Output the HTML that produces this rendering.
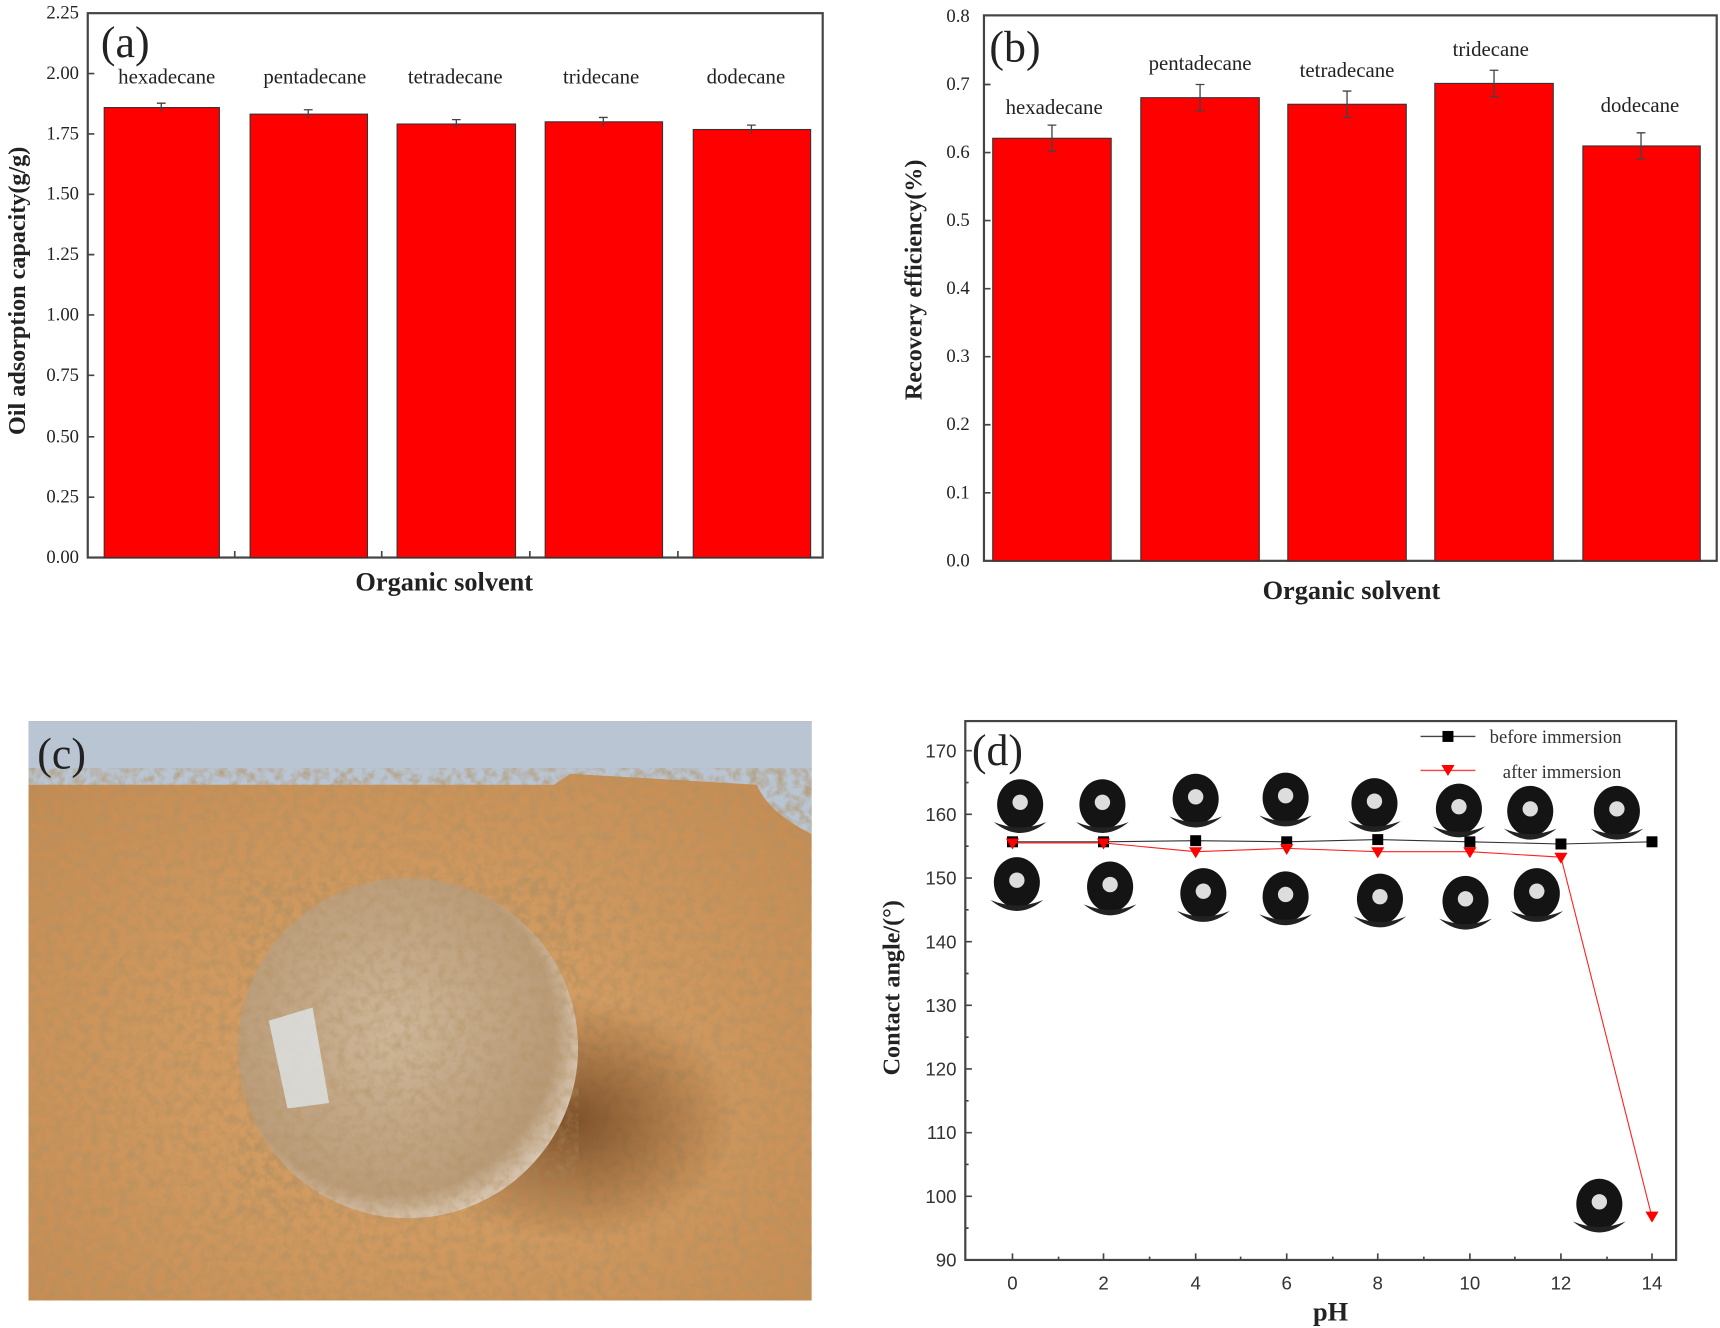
<!DOCTYPE html>
<html><head><meta charset="utf-8"><style>
html,body{margin:0;padding:0;background:#fff;}
svg{display:block;}
.s{font-family:"Liberation Serif",serif;}
.a{font-family:"Liberation Sans",sans-serif;}
</style></head><body>
<svg width="1720" height="1328" viewBox="0 0 1568 1210" preserveAspectRatio="none" xmlns="http://www.w3.org/2000/svg">
<defs>
<filter id="grain" x="0" y="0" width="100%" height="100%">
<feTurbulence type="fractalNoise" baseFrequency="0.12" numOctaves="3" seed="3"/>
<feColorMatrix values="0 0 0 0 0.45  0 0 0 0 0.28  0 0 0 0 0.12  0 0 0 1.6 -0.6"/>
</filter>
<radialGradient id="sand" cx="0.5" cy="0.6" r="0.7">
<stop offset="0" stop-color="#d9a46a"/><stop offset="1" stop-color="#c48b52"/>
</radialGradient>
<radialGradient id="drop" cx="0.45" cy="0.45" r="0.6">
<stop offset="0" stop-color="#cdb89c"/><stop offset="0.8" stop-color="#b99c7a"/><stop offset="1" stop-color="#e8ddd0"/>
</radialGradient>
<radialGradient id="shadow" cx="0.5" cy="0.5" r="0.5">
<stop offset="0" stop-color="#6a3f1c" stop-opacity="0.8"/><stop offset="1" stop-color="#6a3f1c" stop-opacity="0"/>
</radialGradient>
<g id="dr"><ellipse cx="0" cy="0" rx="21" ry="23" fill="#141414"/><ellipse cx="0" cy="-2" rx="7" ry="7" fill="#ddd"/><path d="M-24,16 Q0,36 24,16 Q0,26 -24,16Z" fill="#222"/></g>
</defs>

<!-- Panel a -->
<g class="s" font-size="17" fill="#222">
<rect x="80" y="12" width="670" height="496" fill="none" stroke="#444" stroke-width="2"/>
<g fill="#ff0000" stroke="#333" stroke-width="1">
<rect x="95" y="98" width="105" height="410"/>
<rect x="228" y="104" width="107" height="404"/>
<rect x="362" y="113" width="108" height="395"/>
<rect x="497" y="111" width="107" height="397"/>
<rect x="632" y="118" width="107" height="390"/>
</g>
<g stroke="#444" stroke-width="1.2">
<path d="M147,94v8M143,94h8M281,100v8M277,100h8M416,109v8M412,109h8M550,107v8M546,107h8M685,114v8M681,114h8"/>
</g>
<g text-anchor="end">
<text x="72" y="513">0.00</text><text x="72" y="458">0.25</text><text x="72" y="403">0.50</text><text x="72" y="347">0.75</text><text x="72" y="292">1.00</text><text x="72" y="237">1.25</text><text x="72" y="182">1.50</text><text x="72" y="127">1.75</text><text x="72" y="72">2.00</text><text x="72" y="17">2.25</text>
</g>
<g stroke="#444" stroke-width="1.5"><path d="M80,453h6M80,398h6M80,342h6M80,287h6M80,232h6M80,177h6M80,122h6M80,67h6M214,508v-6M348,508v-6M483,508v-6M618,508v-6"/></g>
<g font-size="19" text-anchor="middle">
<text x="152" y="76">hexadecane</text><text x="287" y="76">pentadecane</text><text x="415" y="76">tetradecane</text><text x="548" y="76">tridecane</text><text x="680" y="76">dodecane</text>
</g>
<text x="92" y="52" font-size="40">(a)</text>
<text x="405" y="538" font-size="24" font-weight="bold" text-anchor="middle">Organic solvent</text>
<text transform="translate(23,265) rotate(-90)" font-size="22" font-weight="bold" text-anchor="middle">Oil adsorption capacity(g/g)</text>
</g>

<!-- Panel b -->
<g class="s" font-size="17" fill="#222">
<rect x="897" y="14" width="668" height="497" fill="none" stroke="#444" stroke-width="2"/>
<g fill="#ff0000" stroke="#333" stroke-width="1">
<rect x="905" y="126" width="108" height="385"/>
<rect x="1040" y="89" width="108" height="422"/>
<rect x="1174" y="95" width="108" height="416"/>
<rect x="1308" y="76" width="108" height="435"/>
<rect x="1443" y="133" width="107" height="378"/>
</g>
<g stroke="#444" stroke-width="1.2" fill="none">
<path d="M959,114v24M955,114h8M955,138h8M1094,77v24M1090,77h8M1090,101h8M1228,83v24M1224,83h8M1224,107h8M1362,64v24M1358,64h8M1358,88h8M1496,121v24M1492,121h8M1492,145h8"/>
</g>
<g text-anchor="end">
<text x="884" y="516">0.0</text><text x="884" y="454">0.1</text><text x="884" y="392">0.2</text><text x="884" y="330">0.3</text><text x="884" y="268">0.4</text><text x="884" y="206">0.5</text><text x="884" y="144">0.6</text><text x="884" y="82">0.7</text><text x="884" y="20">0.8</text>
</g>
<g stroke="#444" stroke-width="1.5"><path d="M897,449h6M897,387h6M897,325h6M897,263h6M897,201h6M897,139h6M897,77h6"/></g>
<g font-size="19" text-anchor="middle">
<text x="961" y="104">hexadecane</text><text x="1094" y="64">pentadecane</text><text x="1228" y="70">tetradecane</text><text x="1359" y="51">tridecane</text><text x="1495" y="102">dodecane</text>
</g>
<text x="902" y="56" font-size="40">(b)</text>
<text x="1232" y="546" font-size="24" font-weight="bold" text-anchor="middle">Organic solvent</text>
<text transform="translate(840,255) rotate(-90)" font-size="22" font-weight="bold" text-anchor="middle">Recovery efficiency(%)</text>
</g>

<!-- Panel c photo -->
<g>
<clipPath id="cp"><rect x="26" y="657" width="714" height="528"/></clipPath>
<g clip-path="url(#cp)">
<rect x="26" y="657" width="714" height="528" fill="url(#sand)"/>
<path d="M26,657H740V760Q700,740 690,715L520,705L505,715H26Z" fill="#b9c5d2"/>
<rect x="26" y="700" width="714" height="485" filter="url(#grain)" opacity="0.9"/>
<ellipse cx="520" cy="1020" rx="150" ry="110" fill="url(#shadow)"/>
<circle cx="372" cy="955" r="155" fill="url(#drop)" opacity="0.95"/>
<circle cx="372" cy="955" r="155" filter="url(#grain)" opacity="0.6"/>
<path d="M245,930 L285,918 L300,1005 L262,1010Z" fill="#dfe3e6" opacity="0.8"/>
</g>
<text x="34" y="700" class="s" font-size="40" fill="#222">(c)</text>
</g>

<!-- Panel d -->
<g class="a" font-size="17" fill="#333">
<rect x="880" y="657" width="648" height="491" fill="none" stroke="#444" stroke-width="2"/>
<g text-anchor="end">
<text x="872" y="1154">90</text><text x="872" y="1096">100</text><text x="872" y="1038">110</text><text x="872" y="980">120</text><text x="872" y="922">130</text><text x="872" y="864">140</text><text x="872" y="806">150</text><text x="872" y="748">160</text><text x="872" y="690">170</text>
</g>
<g stroke="#444" stroke-width="1.5"><path d="M880,1090h6M880,1032h6M880,974h6M880,916h6M880,858h6M880,800h6M880,742h6M880,684h6M880,1119h3M880,1061h3M880,1003h3M880,945h3M880,887h3M880,829h3M880,771h3M880,713h3
M923,1148v-6M1006,1148v-6M1090,1148v-6M1173,1148v-6M1256,1148v-6M1340,1148v-6M1423,1148v-6M1506,1148v-6M965,1148v-3M1048,1148v-3M1131,1148v-3M1215,1148v-3M1298,1148v-3M1381,1148v-3M1465,1148v-3"/></g>
<g text-anchor="middle">
<text x="923" y="1175">0</text><text x="1006" y="1175">2</text><text x="1090" y="1175">4</text><text x="1173" y="1175">6</text><text x="1256" y="1175">8</text><text x="1340" y="1175">10</text><text x="1423" y="1175">12</text><text x="1506" y="1175">14</text>
</g>
<text x="1213" y="1203" class="s" font-size="24" font-weight="bold" text-anchor="middle" fill="#222">pH</text>
<text transform="translate(820,900) rotate(-90)" class="s" font-size="22" font-weight="bold" text-anchor="middle" fill="#222">Contact angle/(°)</text>
<text x="886" y="697" class="s" font-size="40" fill="#222">(d)</text>
<use href="#dr" x="930" y="733"/><use href="#dr" x="1005" y="733"/><use href="#dr" x="1090" y="728"/><use href="#dr" x="1172" y="727"/><use href="#dr" x="1253" y="732"/><use href="#dr" x="1330" y="737"/><use href="#dr" x="1395" y="739"/><use href="#dr" x="1474" y="739"/>
<use href="#dr" x="927" y="804"/><use href="#dr" x="1012" y="808"/><use href="#dr" x="1097" y="814"/><use href="#dr" x="1172" y="817"/><use href="#dr" x="1258" y="819"/><use href="#dr" x="1336" y="821"/><use href="#dr" x="1401" y="814"/>
<use href="#dr" x="1458" y="1097"/>
<polyline points="923,767 1006,767 1090,766 1173,767 1256,765 1340,767 1423,769 1506,767" fill="none" stroke="#333" stroke-width="1"/>
<g fill="#000"><rect x="918" y="762" width="10" height="10"/><rect x="1001" y="762" width="10" height="10"/><rect x="1085" y="761" width="10" height="10"/><rect x="1168" y="762" width="10" height="10"/><rect x="1251" y="760" width="10" height="10"/><rect x="1335" y="762" width="10" height="10"/><rect x="1418" y="764" width="10" height="10"/><rect x="1501" y="762" width="10" height="10"/></g>
<polyline points="923,768 1006,768 1090,776 1173,773 1256,776 1340,776 1423,781 1506,1109" fill="none" stroke="#ff2020" stroke-width="1"/>
<g fill="#ff0000"><path d="M917,764h12l-6,10z M1000,764h12l-6,10z M1084,772h12l-6,10z M1167,769h12l-6,10z M1250,772h12l-6,10z M1334,772h12l-6,10z M1417,777h12l-6,10z M1500,1104h12l-6,10z"/></g>
<line x1="1295" y1="671" x2="1345" y2="671" stroke="#444" stroke-width="1.2"/><rect x="1315" y="666" width="10" height="10" fill="#000"/>
<text x="1358" y="677" class="s" font-size="17" fill="#333">before immersion</text>
<line x1="1295" y1="702" x2="1345" y2="702" stroke="#ff4040" stroke-width="1.2"/><path d="M1314,697h12l-6,10z" fill="#ff0000"/>
<text x="1370" y="709" class="s" font-size="17" fill="#333">after  immersion</text>
</g>
</svg>
</body></html>
